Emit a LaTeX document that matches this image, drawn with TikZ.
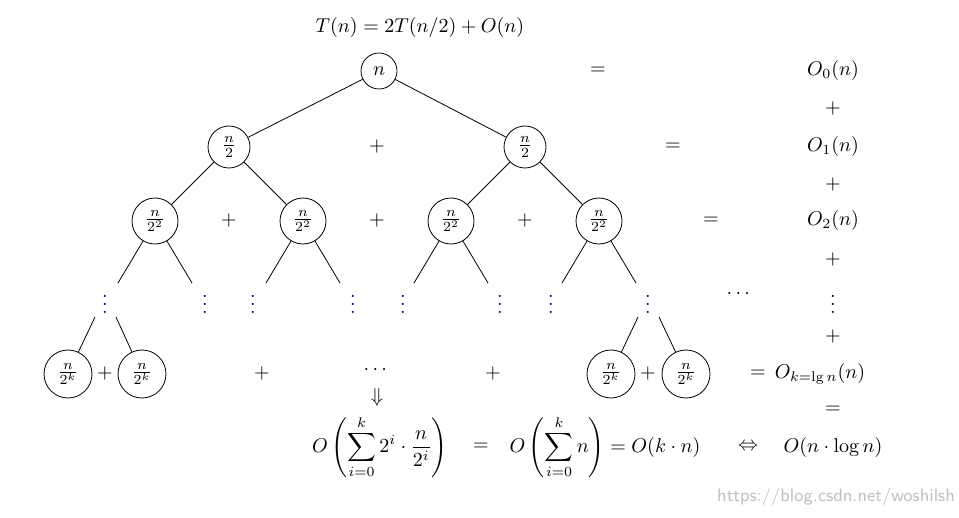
\documentclass[tikz,border=0pt]{standalone}
\usepackage{amsmath}
\begin{document}
\begin{tikzpicture}[x=0.5pt,y=-0.5pt,
  c0/.style={circle,draw,minimum size=18pt,inner sep=0pt},
  c1/.style={circle,draw,minimum size=21pt,inner sep=0pt},
  c2/.style={circle,draw,minimum size=23pt,inner sep=0pt},
  c3/.style={circle,draw,minimum size=24pt,inner sep=0pt},
  vd/.style={text=black!55!blue,inner sep=0pt},
  edge/.style={draw,line width=0.4pt}]
\useasboundingbox (0,0) rectangle (959,518);
\node (title) at (420,28) {$T(n)=2T(n/2)+O(n)$};
% root
\node[c0] (r) at (379,71) {$n$};
\node (e0) at (598,71) {$=$};
\node (o0) at (833,71) {$O_0(n)$};
\node (p0) at (833,109) {$+$};
% level 1
\node[c1] (a) at (229,147) {$\frac{n}{2}$};
\node[c1] (b) at (525,147) {$\frac{n}{2}$};
\node (pa) at (377,147) {$+$};
\node (e1) at (673,147) {$=$};
\node (o1) at (833,147) {$O_1(n)$};
\node (p1) at (833,185) {$+$};
\draw[edge] (r) -- (a); \draw[edge] (r) -- (b);
% level 2
\node[c2] (a1) at (155,221) {$\frac{n}{2^2}$};
\node[c2] (a2) at (303,221) {$\frac{n}{2^2}$};
\node[c2] (b1) at (451,221) {$\frac{n}{2^2}$};
\node[c2] (b2) at (599,221) {$\frac{n}{2^2}$};
\node (q1) at (229,221) {$+$};
\node (q2) at (377,221) {$+$};
\node (q3) at (525,221) {$+$};
\node (e2) at (711,221) {$=$};
\node (o2) at (833,221) {$O_2(n)$};
\node (p2) at (833,260) {$+$};
\draw[edge] (a) -- (a1); \draw[edge] (a) -- (a2);
\draw[edge] (b) -- (b1); \draw[edge] (b) -- (b2);
% level 2 to dots
\foreach \n/\x in {a1/155,a2/303,b1/451,b2/599}{
  \coordinate (\n L) at (\x-37,283);
  \coordinate (\n R) at (\x+37,283);
  \draw[edge] (\n) -- (\n L);
  \draw[edge] (\n) -- (\n R);
}
\foreach \i/\x in {1/105,2/205,3/253,4/353,5/403,6/500,7/551,8/648}{
  \node[vd] (v\i) at (\x,298) {$\vdots$};
}
\node (hd) at (740,294) {$\cdots$};
\node (vr) at (833,298) {$\vdots$};
\node (p3) at (833,337) {$+$};
% bottom
\node[c3] (l1) at (68,374) {$\frac{n}{2^k}$};
\node[c3] (l2) at (142,374) {$\frac{n}{2^k}$};
\node (lp) at (105,374) {$+$};
\node (m1) at (262,374) {$+$};
\node (md) at (377,370) {$\cdots$};
\node (m2) at (493,374) {$+$};
\node[c3] (r1) at (611,374) {$\frac{n}{2^k}$};
\node[c3] (r2) at (686,374) {$\frac{n}{2^k}$};
\node (rp) at (648,374) {$+$};
\node (e3) at (758,374) {$=$};
\node (ok) at (820,374) {$O_{k=\lg n}(n)$};
\node (p4) at (833,410) {$=$};
\coordinate (v1a) at (95,317); \coordinate (v1b) at (116,317);
\coordinate (v8a) at (638,317); \coordinate (v8b) at (659,317);
\draw[edge] (v1a) -- (l1); \draw[edge] (v1b) -- (l2);
\draw[edge] (v8a) -- (r1); \draw[edge] (v8b) -- (r2);
\node (arr) at (377,397) {$\Downarrow$};
% final equation
\node (f1) at (380,447) {$\displaystyle O\left(\sum_{i=0}^{k}2^i\cdot\frac{n}{2^i}\right)$};
\node (f2) at (481,447) {$=$};
\node (f3) at (605,447) {$\displaystyle O\left(\sum_{i=0}^{k}n\right)=O(k\cdot n)$};
\node (f4) at (748,447) {$\Leftrightarrow$};
\node (f5) at (833,447) {$O(n\cdot\log n)$};
\node[text=black!25,font=\sffamily\small] (wm) at (836,497) {https://blog.csdn.net/woshilsh};
\end{tikzpicture}
\end{document}
